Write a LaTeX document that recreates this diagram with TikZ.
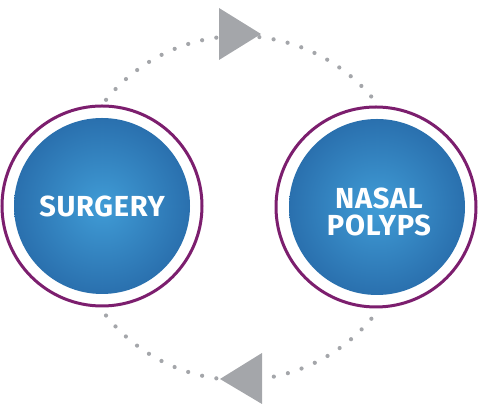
\documentclass[tikz,border=0pt]{standalone}
\usepackage{fontspec}
\newfontfamily\lblfont[LetterSpace=2.5]{Fira Sans}
\definecolor{ringpurple}{RGB}{124,30,110}
\definecolor{bluein}{RGB}{64,156,214}
\definecolor{blueout}{RGB}{42,112,174}
\definecolor{dotgray}{RGB}{164,166,170}
\tikzset{
  ring/.style={draw=ringpurple, line width=3pt, fill=white},
  disc/.style={circle, inner color=bluein, outer color=blueout, minimum size=176pt, inner sep=0pt},
  lbl/.style={text=white, font=\lblfont\fontsize{29}{27}\selectfont\bfseries, align=center},
  dotline/.style={dotgray, line width=4.2pt, line cap=round, dash pattern=on 0pt off 14.4pt},
  arrowtri/.style={fill=dotgray},
}
\begin{document}
\begin{tikzpicture}[x=1pt,y=1pt]
\useasboundingbox (0,0) rectangle (480,417);
\coordinate (ctr) at (240,208.5);
% dotted cycle arcs
\draw[dotline] (ctr) ++(40.5:172.5) arc[start angle=40.5, end angle=141, radius=172.5];
\draw[dotline, dash pattern=on 0pt off 14.45pt] (ctr) ++(320:171.5) arc[start angle=320, end angle=217.5, radius=171.5];
% arrowheads
\fill[arrowtri] (219,409) -- (261,383) -- (219,357) -- cycle;
\fill[arrowtri] (262,64) -- (220,38) -- (262,13) -- cycle;
% circles
\draw[ring] (102,211) circle[radius=100];
\draw[ring] (376,210) circle[radius=100];
\node[disc] (surgery) at (102,211) {};
\node[disc] (polyps) at (377,210) {};
\node[lbl] (surgerytext) at (surgery) {SURGERY};
\node[lbl] (polypstext) at ([shift={(2,-5)}]polyps) {NASAL\\POLYPS};
\end{tikzpicture}
\end{document}
